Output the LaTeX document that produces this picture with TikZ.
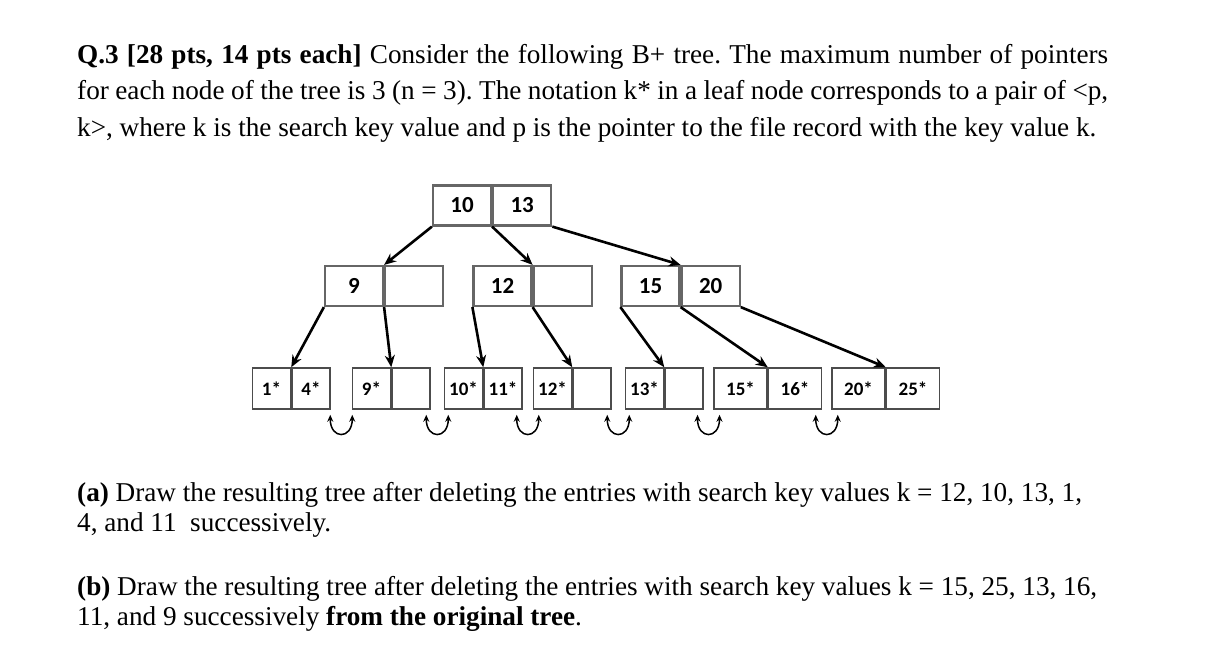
\documentclass[tikz,border=0pt]{standalone}
\usepackage{fontspec}
\setmainfont{Liberation Serif}
\newfontfamily\treefont{Carlito}
\usetikzlibrary{positioning,arrows.meta,calc}

\tikzset{
  para/.style={anchor=base west, inner sep=0pt,
    font=\frenchspacing\fontsize{27.2}{34}\selectfont},
  icell/.style={draw=black!60, line width=2.2pt, minimum width=58pt,
    minimum height=40pt, inner sep=0pt,
    font=\treefont\bfseries\fontsize{23}{25}\selectfont},
  lcell/.style={draw=black!70, line width=1.5pt, minimum width=38pt,
    minimum height=41pt, inner sep=0pt,
    font=\treefont\bfseries\fontsize{19}{21}\selectfont},
  wcell/.style={lcell, minimum width=53pt},
  ptr/.style={-{Stealth[length=12pt,width=10pt]}, line width=2.6pt},
  link/.style={{Stealth[length=7pt,width=6pt]}-{Stealth[length=7pt,width=6pt]},
    line width=1.5pt}
}
\newcommand{\fullline}[1]{\makebox[1031pt][s]{#1}}

\begin{document}
\begin{tikzpicture}[x=1pt, y=-1pt]
    \useasboundingbox (0,0) rectangle (1205,657);
    % question text
    \node [para] (q1) at (77,63)
      {\fullline{\textbf{Q.3 [28 pts, 14 pts each]} Consider the following B+ tree. The maximum number of pointers}};
    \node [para] (q2) at (77,99.5)
      {\fullline{for each node of the tree is 3 (n = 3). The notation k* in a leaf node corresponds to a pair of <p,}};
    \node [para] (q3) at (77,136)
      {k>, where k is the search key value and p is the pointer to the file record with the key value k.};
    \node [para] (a1) at (77,501.5)
      {\textbf{(a)} Draw the resulting tree after deleting the entries with search key values k = 12, 10, 13, 1,};
    \node [para] (a2) at (77,531.5) {4, and 11\ \ successively.};
    \node [para] (b1) at (77,595)
      {\textbf{(b)} Draw the resulting tree after deleting the entries with search key values k = 15, 25, 13, 16,};
    \node [para] (b2) at (77,625)
      {11, and 9 successively \textbf{from the original tree}.};

    % root
    \node [icell] (r10) at (462,205.5) {10};
    \node [icell, right=0pt of r10] (r13) {13};
    % internal nodes
    \node [icell] (i9) at (354,286) {9};
    \node [icell, right=0pt of i9] (i9b) {};
    \node [icell] (i12) at (502.5,286) {12};
    \node [icell, right=0pt of i12] (i12b) {};
    \node [icell] (i15) at (650.5,286) {15};
    \node [icell, right=0pt of i15] (i20) {20};
    % leaves
    \node [lcell] (l1) at (271.5,388.5) {1*};
    \node [lcell, right=0pt of l1] (l4) {4*};
    \node [lcell] (l9) at (371.5,388.5) {9*};
    \node [lcell, right=0pt of l9] (l9b) {};
    \node [lcell] (l10) at (463.5,388.5) {10*};
    \node [lcell, right=0pt of l10] (l11) {11*};
    \node [lcell] (l12) at (552.5,388.5) {12*};
    \node [lcell, right=0pt of l12] (l12b) {};
    \node [lcell] (l13) at (644.5,388.5) {13*};
    \node [lcell, right=0pt of l13] (l13b) {};
    \node [wcell] (l15) at (740.5,388.5) {15*};
    \node [wcell, right=0pt of l15] (l16) {16*};
    \node [wcell] (l20) at (858.5,388.5) {20*};
    \node [wcell, right=0pt of l20] (l25) {25*};

    % tree pointers
    \draw [ptr] (r10.south west) -- (i9.north east);
    \draw [ptr] (r10.south east) -- (i12.north east);
    \draw [ptr] (r13.south east) -- (i15.north east);
    \draw [ptr] (i9.south west) -- (l1.north east);
    \draw [ptr] (i9.south east) -- (l9.north east);
    \draw [ptr] (i12.south west) -- (l10.north east);
    \draw [ptr] (i12.south east) -- (l12.north east);
    \draw [ptr] (i15.south west) -- (l13.north east);
    \draw [ptr] (i15.south east) -- (l15.north east);
    \draw [ptr] (i20.south east) -- (l20.north east);

    % sibling links
    \foreach \a/\b in {l4/l9, l9b/l10, l11/l12, l12b/l13, l13b/l15, l16/l20} {
      \coordinate (m) at ($(\a.south east)!0.5!(\b.south west)$);
      \draw [link] ($(m)+(-11,5)$) .. controls +(0,25) and +(0,25) .. ($(m)+(11,5)$);
    }
\end{tikzpicture}
\end{document}
